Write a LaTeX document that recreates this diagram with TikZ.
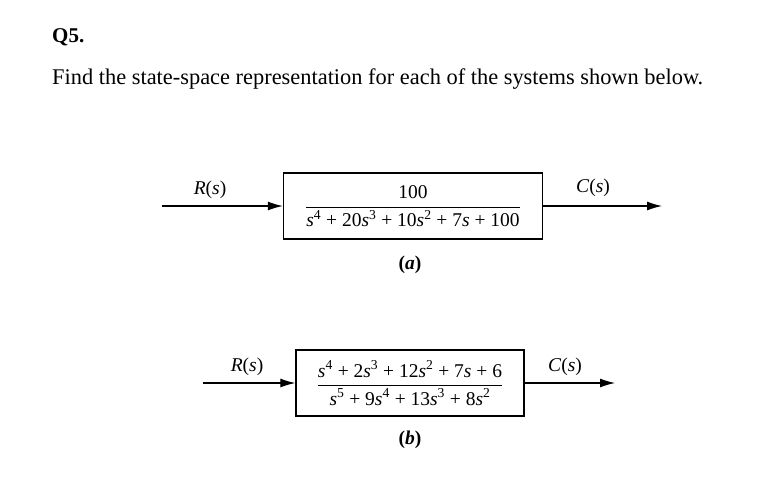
\documentclass[tikz,border=0pt]{standalone}
\usepackage{amsmath}
\usepackage{fontspec}
\setmainfont{Liberation Serif}
\usepackage{tikz}
\usetikzlibrary{arrows.meta,calc}
\tikzstyle{block}=[draw, line width=1.4pt, inner sep=0pt, minimum height=66pt]
\tikzstyle{sig}=[line width=1.1pt, -{Latex[length=15pt,width=9pt]}]
\tikzstyle{lbl}=[inner sep=0pt, font=\fontsize{19.5}{22}\selectfont]
\newcommand{\sv}{\textit{s}}
\newcommand{\pw}[1]{\textsuperscript{#1}}

\begin{document}
\begin{tikzpicture}[x=1pt,y=-1pt]
\useasboundingbox (0,0) rectangle (778,500);
\node[anchor=base west, inner sep=0pt, font=\fontsize{21}{24}\selectfont\bfseries] (q) at (52,43) {Q5.};
\node[anchor=base west, inner sep=0pt, font=\fontsize{22.4}{25}\selectfont] (task) at (52,85) {Find the state-space representation for each of the systems shown below.};
% system (a)
\node[block, minimum width=259pt, lbl] (ga) at (413,206) {$\displaystyle\frac{\mbox{100}}{\mbox{\sv\pw{4} + 20\sv\pw{3} + 10\sv\pw{2} + 7\sv\ + 100}}$};
\coordinate (ra) at (162,206);
\coordinate (ca) at (662,206);
\draw[sig] (ra) -- (ga.west);
\draw[sig] (ga.east) -- (ca);
\node[lbl] (Ra) at (210,190) {\textit{R}(\sv)};
\node[lbl] (Ca) at (593,188) {\textit{C}(\sv)};
\node[lbl] (la) at (410,265) {\textbf{(\textit{a})}};
% system (b)
\node[block, minimum width=228pt, lbl] (gb) at (410,383) {$\displaystyle\frac{\mbox{\sv\pw{4} + 2\sv\pw{3} + 12\sv\pw{2} + 7\sv\ + 6}}{\mbox{\sv\pw{5} + 9\sv\pw{4} + 13\sv\pw{3} + 8\sv\pw{2}}}$};
\coordinate (rb) at (203,383);
\coordinate (cb) at (615,383);
\draw[sig] (rb) -- (gb.west);
\draw[sig] (gb.east) -- (cb);
\node[lbl] (Rb) at (247,367) {\textit{R}(\sv)};
\node[lbl] (Cb) at (565,367) {\textit{C}(\sv)};
\node[lbl] (lb) at (410,440) {\textbf{(\textit{b})}};
\end{tikzpicture}
\end{document}
